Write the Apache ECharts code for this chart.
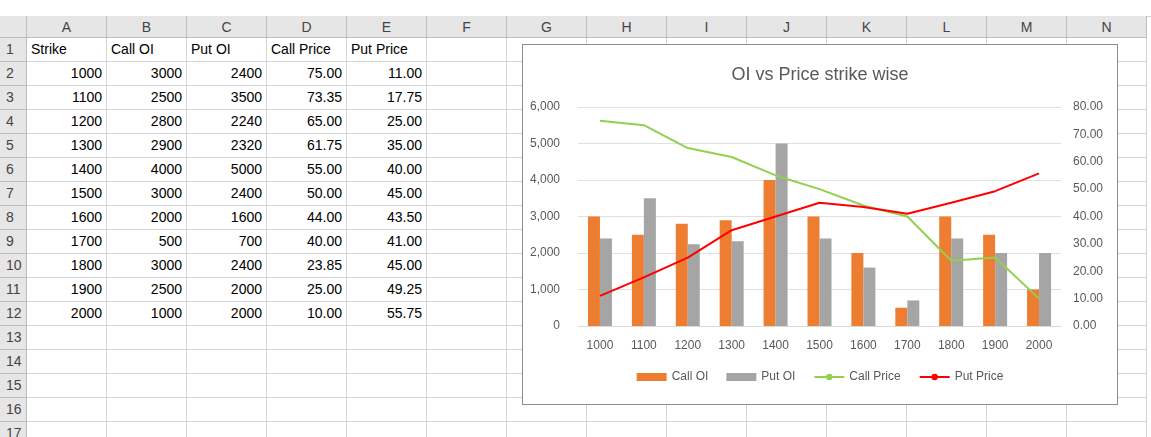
<!DOCTYPE html>
<html><head><meta charset="utf-8">
<script src="https://cdn.jsdelivr.net/npm/echarts@6/dist/echarts.min.js"></script>
<style>
body{margin:0;width:1151px;height:437px;overflow:hidden;background:#fff;font-family:"Liberation Sans","Noto Sans",sans-serif;font-size:14px;}
.c{position:absolute;box-sizing:border-box;border-right:1px solid #d4d4d4;border-bottom:1px solid #d4d4d4;height:24px;line-height:23px;padding:0 4px;white-space:nowrap;overflow:hidden;color:#000}
.h{background:#e6e6e6;color:#444;text-align:center;border-color:#bdbdbd}
.rh{background:#e6e6e6;color:#444;text-align:left;padding-left:6px;border-color:#bdbdbd}
#chart{position:absolute;left:522px;top:44px;width:596px;height:361px;border:1px solid #8c8c8c;box-sizing:border-box;background:#fff}
</style></head><body>
<div id="sheet"></div>
<div id="chart"></div>
<script>
const headers=["Strike","Call OI","Put OI","Call Price","Put Price"];
const strikes=["1000","1100","1200","1300","1400","1500","1600","1700","1800","1900","2000"];
const callOI=[3000,2500,2800,2900,4000,3000,2000,500,3000,2500,1000];
const putOI=[2400,3500,2240,2320,5000,2400,1600,700,2400,2000,2000];
const callPrice=[75.00,73.35,65.00,61.75,55.00,50.00,44.00,40.00,23.85,25.00,10.00];
const putPrice=[11.00,17.75,25.00,35.00,40.00,45.00,43.50,41.00,45.00,49.25,55.75];
const cols="ABCDEFGHIJKLMN".split("");

const s=document.getElementById('sheet');
function cell(x,y,w,h,txt,cls,align){const d=document.createElement('div');d.className='c '+(cls||'');d.style.left=x+'px';d.style.top=y+'px';d.style.width=w+'px';d.style.height=h+'px';if(align)d.style.textAlign=align;d.textContent=txt;s.appendChild(d);}
const top0=16,hdrH=22,rowH=24,rhW=27,colW=80;
// top strip
const strip=document.createElement('div');strip.style.cssText='position:absolute;left:0;top:0;width:1151px;height:16px;background:#fff;border-bottom:1px solid #d4d4d4';s.appendChild(strip);
cell(0,top0,rhW,hdrH,'','h');
cols.forEach((c,i)=>cell(rhW+i*colW,top0,colW,hdrH,c,'h'));
for(let r=1;r<=17;r++){
  const y=top0+hdrH+(r-1)*rowH;
  cell(0,y,rhW,rowH,String(r),'rh');
  for(let i=0;i<cols.length;i++){
    let t='',al='left';
    if(r===1&&i<5)t=headers[i];
    else if(r>=2&&r<=12&&i<5){const k=r-2;al='right';
      t=[strikes[k],String(callOI[k]),String(putOI[k]),callPrice[k].toFixed(2),putPrice[k].toFixed(2)][i];}
    cell(rhW+i*colW,y,colW,rowH,t,'',al);
  }
}

const ch=echarts.init(document.getElementById('chart'));
const lab={color:'#595959',fontSize:12,fontFamily:'Liberation Sans'};
ch.setOption({
  animation:false,
  title:{text:'OI vs Price strike wise',left:'center',top:16,textStyle:{color:'#595959',fontSize:18,fontWeight:'normal',fontFamily:'Liberation Sans'}},
  legend:{bottom:16,itemWidth:30,itemHeight:8,itemGap:18,textStyle:lab,
    data:[{name:'Call OI',icon:'rect'},{name:'Put OI',icon:'rect'},{name:'Call Price'},{name:'Put Price'}]},
  grid:{left:55,right:56,top:62,bottom:78},
  xAxis:{type:'category',data:strikes,axisLine:{lineStyle:{color:'#d9d9d9'}},axisTick:{show:false},axisLabel:Object.assign({margin:14},lab)},
  yAxis:[
    {type:'value',min:0,max:6000,interval:1000,axisLabel:Object.assign({margin:18},lab),splitLine:{lineStyle:{color:'#e0e0e0'}},axisLine:{show:false}},
    {type:'value',min:0,max:80,interval:10,axisLabel:Object.assign({margin:12,formatter:v=>v.toFixed(2)},lab),splitLine:{show:false},axisLine:{show:false}}
  ],
  series:[
    {name:'Call OI',type:'bar',data:callOI,itemStyle:{color:'#ED7D31'},barWidth:12,barGap:'0%'},
    {name:'Put OI',type:'bar',data:putOI,itemStyle:{color:'#A5A5A5'},barWidth:12},
    {name:'Call Price',type:'line',yAxisIndex:1,data:callPrice,symbol:'none',lineStyle:{color:'#92D050',width:2},itemStyle:{color:'#92D050'}},
    {name:'Put Price',type:'line',yAxisIndex:1,data:putPrice,symbol:'none',lineStyle:{color:'#FF0000',width:2},itemStyle:{color:'#FF0000'}}
  ]
});
</script></body></html>
